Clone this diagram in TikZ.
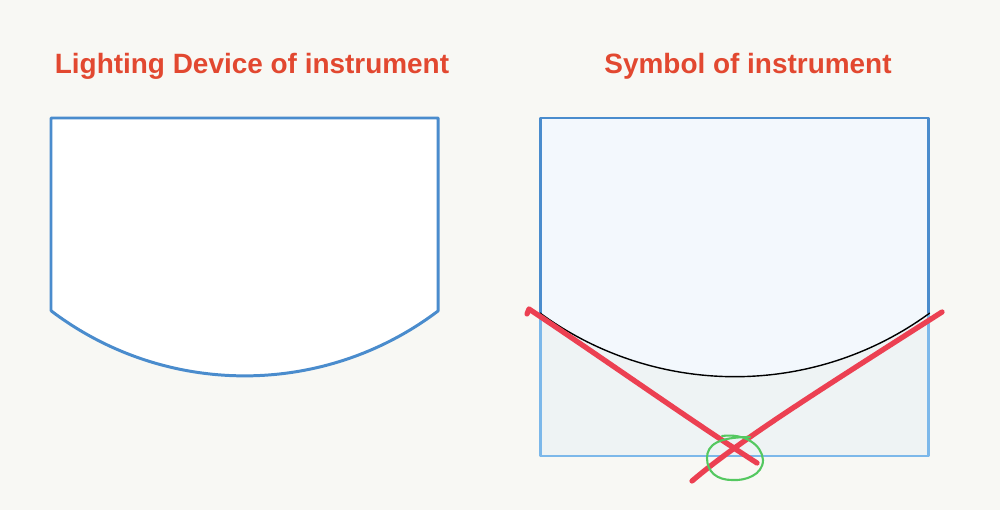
\documentclass[tikz,border=0pt]{standalone}
\usepackage{fontspec}
\setmainfont{Liberation Sans}
\usepackage{tikz}
\definecolor{bgpaper}{RGB}{248,248,244}
\definecolor{titlered}{RGB}{226,72,48}
\definecolor{edgeblue}{RGB}{74,140,205}
\definecolor{paleblue}{RGB}{124,184,234}
\definecolor{topfill}{RGB}{243,248,253}
\definecolor{lowfill}{RGB}{238,243,244}
\definecolor{markred}{RGB}{236,64,82}
\definecolor{markgreen}{RGB}{84,200,96}
\tikzset{
  title/.style = {anchor=base, text=titlered, font=\fontsize{15.9}{19}\selectfont\bfseries},
  outline/.style = {draw=edgeblue, line width=1.7pt, line join=round},
  lowline/.style = {draw=paleblue, line width=1.7pt, line join=round},
  cross/.style = {draw=markred, line width=3pt, line cap=round, line join=round},
  ring/.style = {draw=markgreen, line width=1.2pt, line cap=round}
}

\begin{document}
\begin{tikzpicture}[x=0.02cm, y=-0.02cm]
\useasboundingbox (0,0) rectangle (1000,510);
\fill[bgpaper] (0,0) rectangle (1000,510);

% titles
\node[title] (lefttitle) at (252,73) {Lighting Device of instrument};
\node[title] (righttitle) at (748,73) {Symbol of instrument};

% lighting device
\filldraw[fill=white, outline] (51,311) -- (51,118) -- (438,118) -- (438,311)
  arc[start angle=52.9, end angle=127.1, radius=320.5] -- cycle;

% symbol
\fill[lowfill] (540,118) rectangle (928,456);
\fill[topfill] (540,313) -- (540,118) -- (928,118) -- (928,313)
  arc[start angle=53.8, end angle=126.2, radius=330] -- cycle;
\draw[lowline] (540,313) -- (540,456) -- (928,456) -- (928,313);
\draw[outline] (540,313) -- (540,118) -- (928,118) -- (928,313);
\draw[black, line width=0.8pt] (540,313) arc[start angle=126.2, end angle=53.8, radius=330];

% crossing marks
\coordinate (lefttop) at (527,314);
\coordinate (leftend) at (757,463);
\coordinate (rightend) at (692,481);
\coordinate (righttop) at (942,312);
\draw[cross] (lefttop) -- (529,309) .. controls (620,370) and (690,420) .. (leftend);
\draw[cross] (rightend) .. controls (740,440) and (820,390) .. (righttop);
\draw[ring] (722,436) .. controls (745,433) and (762,445) .. (763,460)
  .. controls (763,475) and (745,481) .. (732,480)
  .. controls (717,480) and (707,472) .. (707,458)
  .. controls (707,445) and (718,437) .. (750,437);
\end{tikzpicture}
\end{document}
